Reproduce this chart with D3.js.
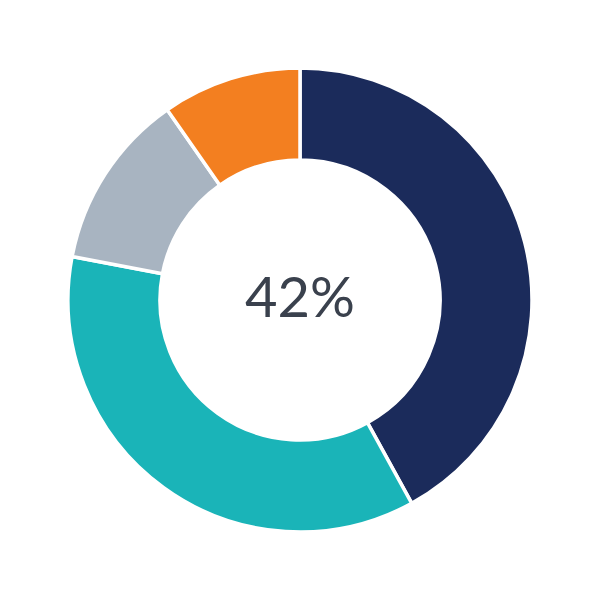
<!DOCTYPE html>
<html>
<head>
<meta charset="utf-8">
<script src="https://cdn.jsdelivr.net/npm/d3@7"></script>
<style>
  html, body { margin: 0; padding: 0; background: #fff; }
  svg { display: block; }
</style>
</head>
<body>
<div id="chart"></div>
<script>
// slice data, clockwise from 12 o'clock
const categories = ['Navy', 'Teal', 'Grey', 'Orange'];
const values = [42, 36, 12.3, 9.7];
const colors = ['#1b2b5b', '#1ab4b8', '#a8b4c1', '#f37f20'];
const centerLabel = '42%';

const width = 600, height = 600;
const outerR = 232, innerR = 140;

const svg = d3.select('#chart').append('svg')
  .attr('width', width)
  .attr('height', height);

const g = svg.append('g')
  .attr('transform', `translate(${width / 2}, ${height / 2})`);

const pie = d3.pie().sort(null).value(d => d.value);
const arc = d3.arc().innerRadius(innerR).outerRadius(outerR);

const slices = pie(categories.map((c, i) => ({ name: c, value: values[i], color: colors[i] })));

g.selectAll('path')
  .data(slices)
  .join('path')
  .attr('d', arc)
  .attr('fill', d => d.data.color)
  .attr('stroke', '#fff')
  .attr('stroke-width', 3.5);

g.append('text')
  .attr('text-anchor', 'middle')
  .attr('y', -3)
  .attr('dy', '0.35em')
  .attr('font-family', 'Lato, sans-serif')
  .attr('font-size', 56)
  .attr('fill', '#3a414d')
  .text(centerLabel);
</script>
</body>
</html>
